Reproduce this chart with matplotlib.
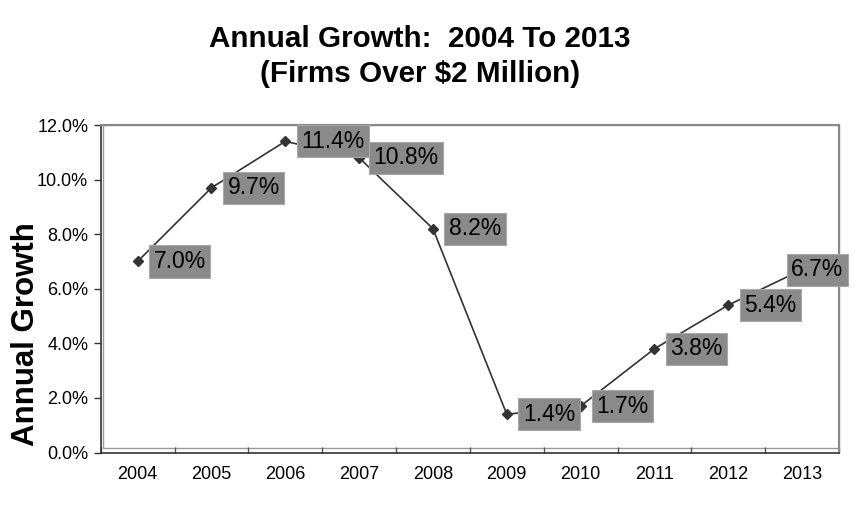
import matplotlib
matplotlib.use("Agg")
import matplotlib.pyplot as plt
from matplotlib.patches import Rectangle

years = ["2004", "2005", "2006", "2007", "2008", "2009", "2010", "2011", "2012", "2013"]
growth = [7.0, 9.7, 11.4, 10.8, 8.2, 1.4, 1.7, 3.8, 5.4, 6.7]
y_ticks = [0, 2, 4, 6, 8, 10, 12]
# label offsets in pixels (x) relative to marker
label_dx = [16, 16, 16, 14, 16, 16, 16, 16, 16, -11]

plt.rcParams['font.family'] = ['Liberation Sans', 'DejaVu Sans']

fig = plt.figure(figsize=(8.59, 5.21), dpi=100)
ax = fig.add_axes([100.7 / 859, (521 - 452.5) / 521, (839 - 100.7) / 859, (452.5 - 125) / 521])

x = list(range(len(years)))
ax.plot(x, growth, color='#333333', lw=1.2, marker='D', ms=5.5, mfc='#333333', mec='#333333', zorder=3)

for xi, v, dx in zip(x, growth, label_dx):
    ax.annotate(f"{v:.1f}%", (xi, v), xytext=(dx * 0.72, 0), textcoords='offset points',
                ha='left', va='center', fontsize=16.5, color='black', zorder=5,
                bbox=dict(boxstyle='square,pad=0.2', fc='#8a8a8a', ec='#a8a8a8', lw=0.8))

ax.set_xlim(-0.5, len(years) - 0.5)
ax.set_ylim(0, 12)

ax.set_yticks(y_ticks)
ax.set_yticklabels([f"{t:.1f}%" for t in y_ticks], fontsize=13)
ax.tick_params(axis='y', direction='out', length=5, width=1, color='#333333', pad=4)

ax.set_xticks([i - 0.5 for i in range(len(years) + 1)])
ax.set_xticklabels([])
ax.set_xticks(x, minor=True)
ax.set_xticklabels(years, minor=True, fontsize=13)
ax.tick_params(axis='x', which='major', direction='in', length=4, width=1, color='#555555')
ax.tick_params(axis='x', which='minor', length=0, pad=10)

for s in ['left', 'bottom']:
    ax.spines[s].set_color('#333333')
    ax.spines[s].set_linewidth(1.2)
for s in ['top', 'right']:
    ax.spines[s].set_color('#888888')
    ax.spines[s].set_linewidth(1.5)

# inner gray plot-area border
ax.add_patch(Rectangle((2.5 / 738.3, 4.5 / 327.5), 1 - 2.5 / 738.3, 1 - 4.5 / 327.5,
                       transform=ax.transAxes, fill=False, ec='#999999', lw=1.0, zorder=1, clip_on=False))

fig.text(420 / 859, 1 - 56.5 / 521, "Annual Growth:  2004 To 2013\n(Firms Over $2 Million)",
         ha='center', va='center', fontsize=21.3, fontweight='bold', linespacing=1.34)
fig.text(26 / 859, 1 - 334 / 521, "Annual Growth", rotation=90, ha='center', va='center',
         fontsize=22.5, fontweight='bold')

fig.savefig("out.png", dpi=100)
